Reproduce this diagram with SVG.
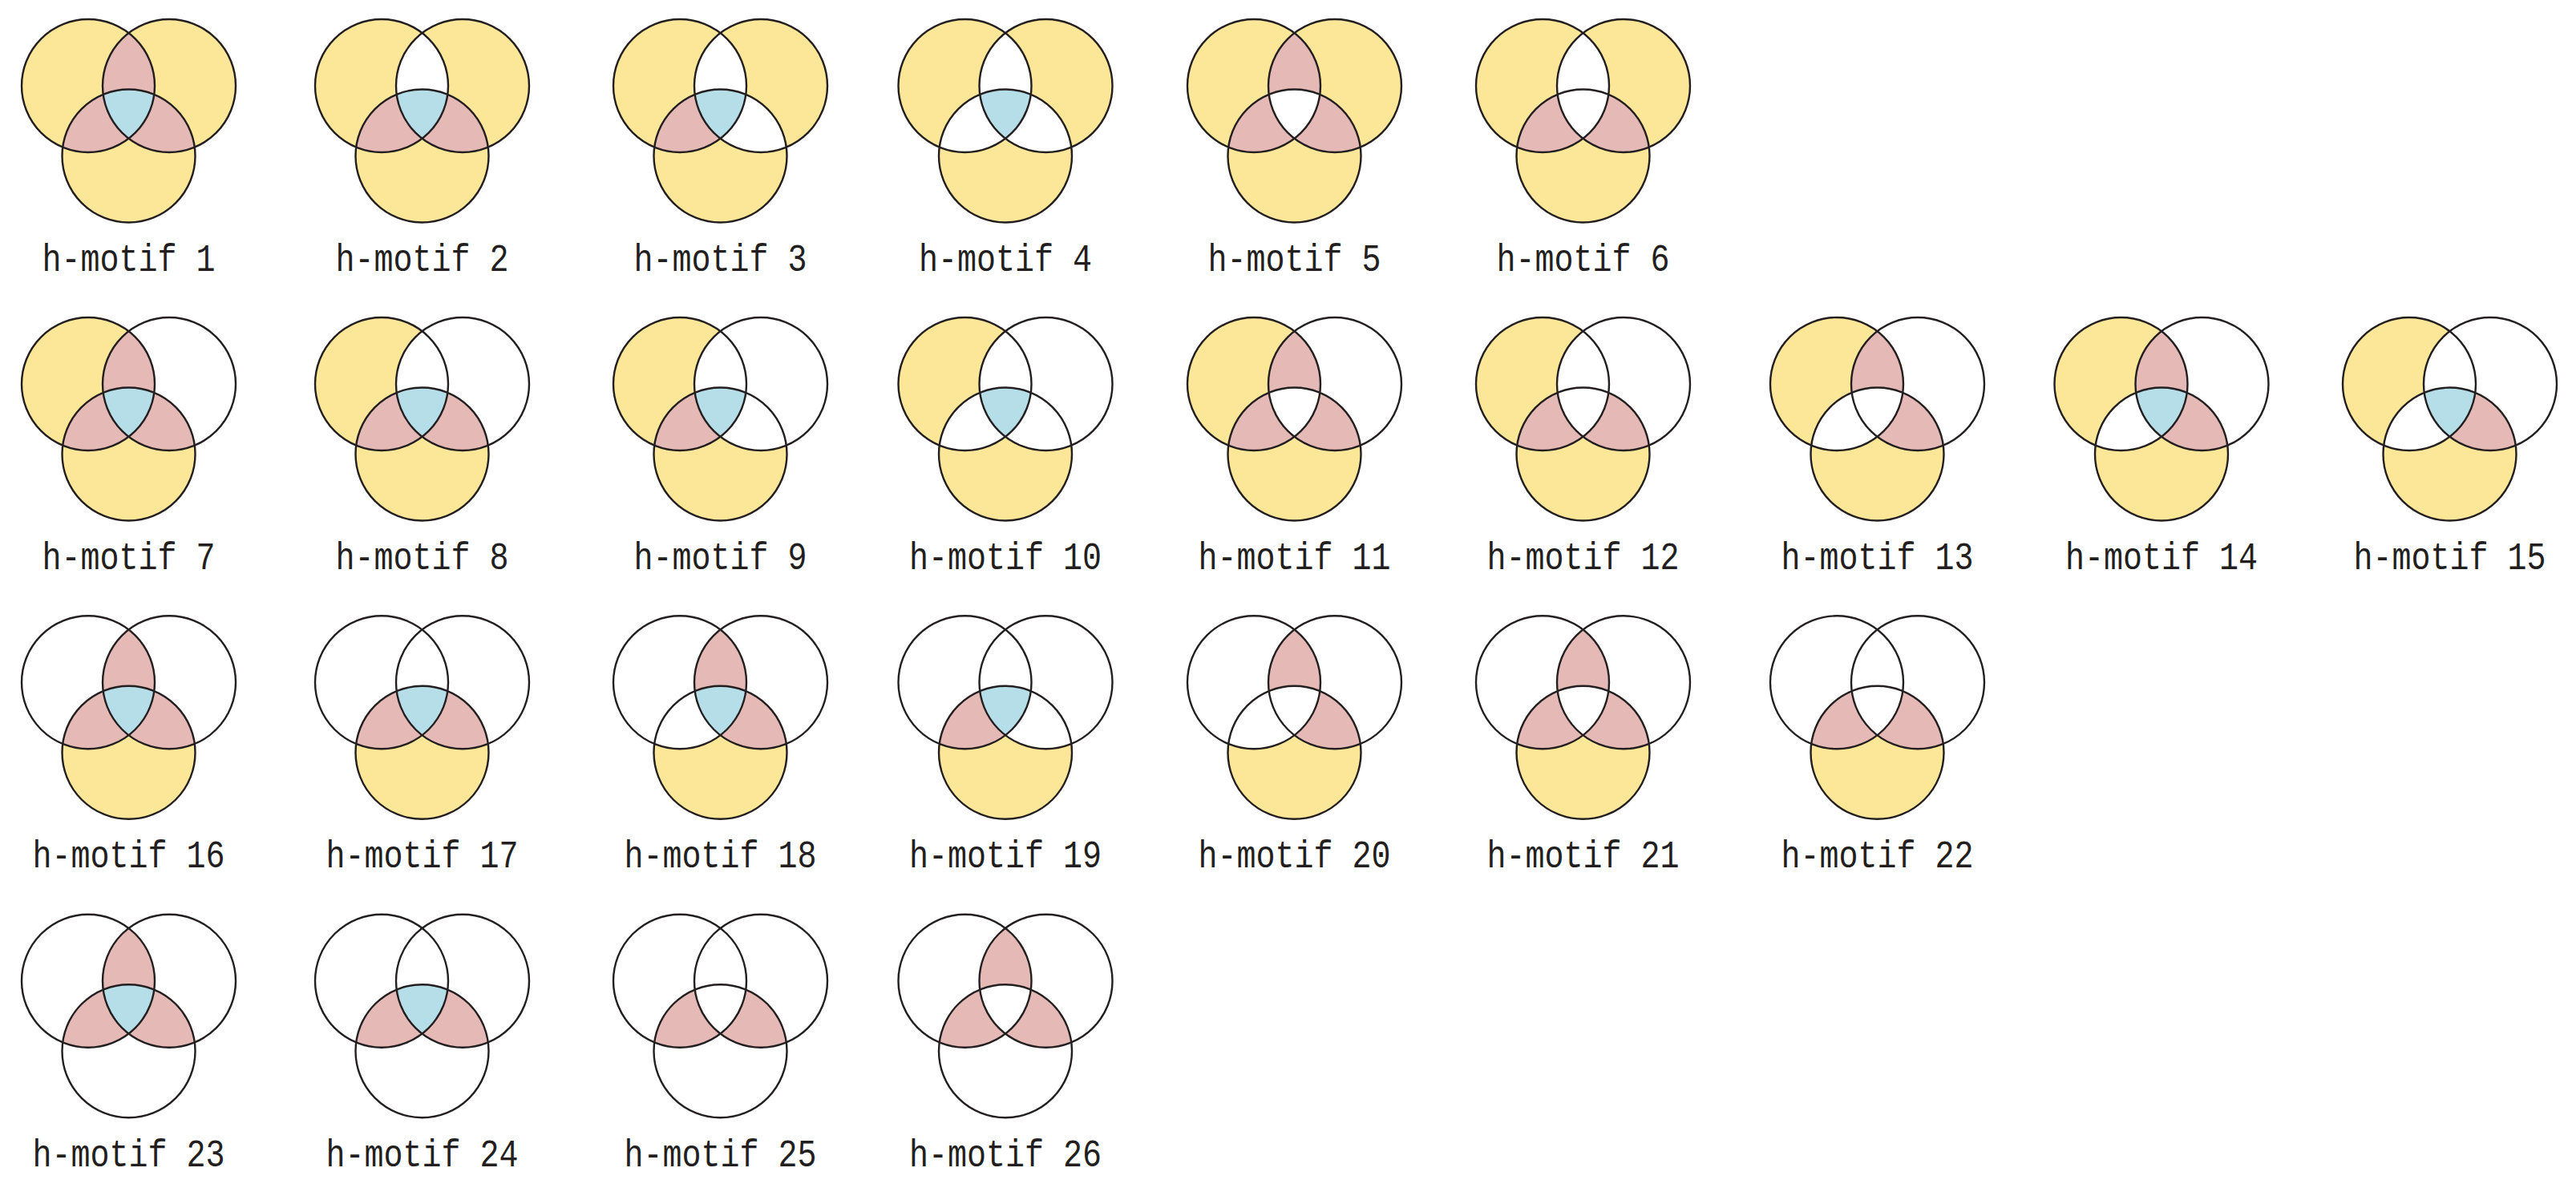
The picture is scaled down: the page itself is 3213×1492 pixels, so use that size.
<svg xmlns="http://www.w3.org/2000/svg" width="3213" height="1492" viewBox="0 0 3213 1492">
<style>
.y{fill:#fce697}.p{fill:#e5b9b6}.b{fill:#b6dee8}.w{fill:#ffffff}
.t{font-family:"Liberation Mono",monospace;font-size:40px;fill:#231f20;text-anchor:middle}
</style>
<defs>
<circle id="A" cx="0" cy="0" r="83"/>
<circle id="B" cx="101" cy="0" r="83"/>
<circle id="C" cx="50.5" cy="87.5" r="83"/>
<clipPath id="kA"><circle cx="0" cy="0" r="83"/></clipPath>
<clipPath id="kB"><circle cx="101" cy="0" r="83"/></clipPath>
<g id="O" fill="none" stroke="#231f20" stroke-width="2.4"><circle cx="0" cy="0" r="83"/><circle cx="101" cy="0" r="83"/><circle cx="50.5" cy="87.5" r="83"/></g>
</defs>
<rect width="3213" height="1492" fill="#ffffff"/>

<g id="m1" transform="translate(110,107)"><use href="#A" class="y"/><use href="#B" class="y"/><use href="#C" class="y"/><use href="#B" class="p" clip-path="url(#kA)"/><use href="#C" class="p" clip-path="url(#kA)"/><use href="#C" class="p" clip-path="url(#kB)"/><g clip-path="url(#kA)"><use href="#C" class="b" clip-path="url(#kB)"/></g><use href="#O"/><text class="t" transform="translate(50.5,231) scale(1,1.2)">h-motif 1</text></g>
<g id="m2" transform="translate(476,107)"><use href="#A" class="y"/><use href="#B" class="y"/><use href="#C" class="y"/><use href="#B" class="w" clip-path="url(#kA)"/><use href="#C" class="p" clip-path="url(#kA)"/><use href="#C" class="p" clip-path="url(#kB)"/><g clip-path="url(#kA)"><use href="#C" class="b" clip-path="url(#kB)"/></g><use href="#O"/><text class="t" transform="translate(50.5,231) scale(1,1.2)">h-motif 2</text></g>
<g id="m3" transform="translate(848,107)"><use href="#A" class="y"/><use href="#B" class="y"/><use href="#C" class="y"/><use href="#B" class="w" clip-path="url(#kA)"/><use href="#C" class="p" clip-path="url(#kA)"/><use href="#C" class="w" clip-path="url(#kB)"/><g clip-path="url(#kA)"><use href="#C" class="b" clip-path="url(#kB)"/></g><use href="#O"/><text class="t" transform="translate(50.5,231) scale(1,1.2)">h-motif 3</text></g>
<g id="m4" transform="translate(1203.5,107)"><use href="#A" class="y"/><use href="#B" class="y"/><use href="#C" class="y"/><use href="#B" class="w" clip-path="url(#kA)"/><use href="#C" class="w" clip-path="url(#kA)"/><use href="#C" class="w" clip-path="url(#kB)"/><g clip-path="url(#kA)"><use href="#C" class="b" clip-path="url(#kB)"/></g><use href="#O"/><text class="t" transform="translate(50.5,231) scale(1,1.2)">h-motif 4</text></g>
<g id="m5" transform="translate(1564,107)"><use href="#A" class="y"/><use href="#B" class="y"/><use href="#C" class="y"/><use href="#B" class="p" clip-path="url(#kA)"/><use href="#C" class="p" clip-path="url(#kA)"/><use href="#C" class="p" clip-path="url(#kB)"/><g clip-path="url(#kA)"><use href="#C" class="w" clip-path="url(#kB)"/></g><use href="#O"/><text class="t" transform="translate(50.5,231) scale(1,1.2)">h-motif 5</text></g>
<g id="m6" transform="translate(1924,107)"><use href="#A" class="y"/><use href="#B" class="y"/><use href="#C" class="y"/><use href="#B" class="w" clip-path="url(#kA)"/><use href="#C" class="p" clip-path="url(#kA)"/><use href="#C" class="p" clip-path="url(#kB)"/><g clip-path="url(#kA)"><use href="#C" class="w" clip-path="url(#kB)"/></g><use href="#O"/><text class="t" transform="translate(50.5,231) scale(1,1.2)">h-motif 6</text></g>

<g id="m7" transform="translate(110,479)"><use href="#A" class="y"/><use href="#B" class="w"/><use href="#C" class="y"/><use href="#B" class="p" clip-path="url(#kA)"/><use href="#C" class="p" clip-path="url(#kA)"/><use href="#C" class="p" clip-path="url(#kB)"/><g clip-path="url(#kA)"><use href="#C" class="b" clip-path="url(#kB)"/></g><use href="#O"/><text class="t" transform="translate(50.5,231) scale(1,1.2)">h-motif 7</text></g>
<g id="m8" transform="translate(476,479)"><use href="#A" class="y"/><use href="#B" class="w"/><use href="#C" class="y"/><use href="#B" class="w" clip-path="url(#kA)"/><use href="#C" class="p" clip-path="url(#kA)"/><use href="#C" class="p" clip-path="url(#kB)"/><g clip-path="url(#kA)"><use href="#C" class="b" clip-path="url(#kB)"/></g><use href="#O"/><text class="t" transform="translate(50.5,231) scale(1,1.2)">h-motif 8</text></g>
<g id="m9" transform="translate(848,479)"><use href="#A" class="y"/><use href="#B" class="w"/><use href="#C" class="y"/><use href="#B" class="w" clip-path="url(#kA)"/><use href="#C" class="p" clip-path="url(#kA)"/><use href="#C" class="w" clip-path="url(#kB)"/><g clip-path="url(#kA)"><use href="#C" class="b" clip-path="url(#kB)"/></g><use href="#O"/><text class="t" transform="translate(50.5,231) scale(1,1.2)">h-motif 9</text></g>
<g id="m10" transform="translate(1203.5,479)"><use href="#A" class="y"/><use href="#B" class="w"/><use href="#C" class="y"/><use href="#B" class="w" clip-path="url(#kA)"/><use href="#C" class="w" clip-path="url(#kA)"/><use href="#C" class="w" clip-path="url(#kB)"/><g clip-path="url(#kA)"><use href="#C" class="b" clip-path="url(#kB)"/></g><use href="#O"/><text class="t" transform="translate(50.5,231) scale(1,1.2)">h-motif 10</text></g>
<g id="m11" transform="translate(1564,479)"><use href="#A" class="y"/><use href="#B" class="w"/><use href="#C" class="y"/><use href="#B" class="p" clip-path="url(#kA)"/><use href="#C" class="p" clip-path="url(#kA)"/><use href="#C" class="p" clip-path="url(#kB)"/><g clip-path="url(#kA)"><use href="#C" class="w" clip-path="url(#kB)"/></g><use href="#O"/><text class="t" transform="translate(50.5,231) scale(1,1.2)">h-motif 11</text></g>
<g id="m12" transform="translate(1924,479)"><use href="#A" class="y"/><use href="#B" class="w"/><use href="#C" class="y"/><use href="#B" class="w" clip-path="url(#kA)"/><use href="#C" class="p" clip-path="url(#kA)"/><use href="#C" class="p" clip-path="url(#kB)"/><g clip-path="url(#kA)"><use href="#C" class="w" clip-path="url(#kB)"/></g><use href="#O"/><text class="t" transform="translate(50.5,231) scale(1,1.2)">h-motif 12</text></g>
<g id="m13" transform="translate(2291,479)"><use href="#A" class="y"/><use href="#B" class="w"/><use href="#C" class="y"/><use href="#B" class="p" clip-path="url(#kA)"/><use href="#C" class="w" clip-path="url(#kA)"/><use href="#C" class="p" clip-path="url(#kB)"/><g clip-path="url(#kA)"><use href="#C" class="w" clip-path="url(#kB)"/></g><use href="#O"/><text class="t" transform="translate(50.5,231) scale(1,1.2)">h-motif 13</text></g>
<g id="m14" transform="translate(2645.5,479)"><use href="#A" class="y"/><use href="#B" class="w"/><use href="#C" class="y"/><use href="#B" class="p" clip-path="url(#kA)"/><use href="#C" class="w" clip-path="url(#kA)"/><use href="#C" class="p" clip-path="url(#kB)"/><g clip-path="url(#kA)"><use href="#C" class="b" clip-path="url(#kB)"/></g><use href="#O"/><text class="t" transform="translate(50.5,231) scale(1,1.2)">h-motif 14</text></g>
<g id="m15" transform="translate(3005,479)"><use href="#A" class="y"/><use href="#B" class="w"/><use href="#C" class="y"/><use href="#B" class="w" clip-path="url(#kA)"/><use href="#C" class="w" clip-path="url(#kA)"/><use href="#C" class="p" clip-path="url(#kB)"/><g clip-path="url(#kA)"><use href="#C" class="b" clip-path="url(#kB)"/></g><use href="#O"/><text class="t" transform="translate(50.5,231) scale(1,1.2)">h-motif 15</text></g>

<g id="m16" transform="translate(110,851.3)"><use href="#A" class="w"/><use href="#B" class="w"/><use href="#C" class="y"/><use href="#B" class="p" clip-path="url(#kA)"/><use href="#C" class="p" clip-path="url(#kA)"/><use href="#C" class="p" clip-path="url(#kB)"/><g clip-path="url(#kA)"><use href="#C" class="b" clip-path="url(#kB)"/></g><use href="#O"/><text class="t" transform="translate(50.5,231) scale(1,1.2)">h-motif 16</text></g>
<g id="m17" transform="translate(476,851.3)"><use href="#A" class="w"/><use href="#B" class="w"/><use href="#C" class="y"/><use href="#B" class="w" clip-path="url(#kA)"/><use href="#C" class="p" clip-path="url(#kA)"/><use href="#C" class="p" clip-path="url(#kB)"/><g clip-path="url(#kA)"><use href="#C" class="b" clip-path="url(#kB)"/></g><use href="#O"/><text class="t" transform="translate(50.5,231) scale(1,1.2)">h-motif 17</text></g>
<g id="m18" transform="translate(848,851.3)"><use href="#A" class="w"/><use href="#B" class="w"/><use href="#C" class="y"/><use href="#B" class="p" clip-path="url(#kA)"/><use href="#C" class="w" clip-path="url(#kA)"/><use href="#C" class="p" clip-path="url(#kB)"/><g clip-path="url(#kA)"><use href="#C" class="b" clip-path="url(#kB)"/></g><use href="#O"/><text class="t" transform="translate(50.5,231) scale(1,1.2)">h-motif 18</text></g>
<g id="m19" transform="translate(1203.5,851.3)"><use href="#A" class="w"/><use href="#B" class="w"/><use href="#C" class="y"/><use href="#B" class="w" clip-path="url(#kA)"/><use href="#C" class="p" clip-path="url(#kA)"/><use href="#C" class="w" clip-path="url(#kB)"/><g clip-path="url(#kA)"><use href="#C" class="b" clip-path="url(#kB)"/></g><use href="#O"/><text class="t" transform="translate(50.5,231) scale(1,1.2)">h-motif 19</text></g>
<g id="m20" transform="translate(1564,851.3)"><use href="#A" class="w"/><use href="#B" class="w"/><use href="#C" class="y"/><use href="#B" class="p" clip-path="url(#kA)"/><use href="#C" class="w" clip-path="url(#kA)"/><use href="#C" class="p" clip-path="url(#kB)"/><g clip-path="url(#kA)"><use href="#C" class="w" clip-path="url(#kB)"/></g><use href="#O"/><text class="t" transform="translate(50.5,231) scale(1,1.2)">h-motif 20</text></g>
<g id="m21" transform="translate(1924,851.3)"><use href="#A" class="w"/><use href="#B" class="w"/><use href="#C" class="y"/><use href="#B" class="p" clip-path="url(#kA)"/><use href="#C" class="p" clip-path="url(#kA)"/><use href="#C" class="p" clip-path="url(#kB)"/><g clip-path="url(#kA)"><use href="#C" class="w" clip-path="url(#kB)"/></g><use href="#O"/><text class="t" transform="translate(50.5,231) scale(1,1.2)">h-motif 21</text></g>
<g id="m22" transform="translate(2291,851.3)"><use href="#A" class="w"/><use href="#B" class="w"/><use href="#C" class="y"/><use href="#B" class="w" clip-path="url(#kA)"/><use href="#C" class="p" clip-path="url(#kA)"/><use href="#C" class="p" clip-path="url(#kB)"/><g clip-path="url(#kA)"><use href="#C" class="w" clip-path="url(#kB)"/></g><use href="#O"/><text class="t" transform="translate(50.5,231) scale(1,1.2)">h-motif 22</text></g>

<g id="m23" transform="translate(110,1223.7)"><use href="#A" class="w"/><use href="#B" class="w"/><use href="#C" class="w"/><use href="#B" class="p" clip-path="url(#kA)"/><use href="#C" class="p" clip-path="url(#kA)"/><use href="#C" class="p" clip-path="url(#kB)"/><g clip-path="url(#kA)"><use href="#C" class="b" clip-path="url(#kB)"/></g><use href="#O"/><text class="t" transform="translate(50.5,231) scale(1,1.2)">h-motif 23</text></g>
<g id="m24" transform="translate(476,1223.7)"><use href="#A" class="w"/><use href="#B" class="w"/><use href="#C" class="w"/><use href="#B" class="w" clip-path="url(#kA)"/><use href="#C" class="p" clip-path="url(#kA)"/><use href="#C" class="p" clip-path="url(#kB)"/><g clip-path="url(#kA)"><use href="#C" class="b" clip-path="url(#kB)"/></g><use href="#O"/><text class="t" transform="translate(50.5,231) scale(1,1.2)">h-motif 24</text></g>
<g id="m25" transform="translate(848,1223.7)"><use href="#A" class="w"/><use href="#B" class="w"/><use href="#C" class="w"/><use href="#B" class="w" clip-path="url(#kA)"/><use href="#C" class="p" clip-path="url(#kA)"/><use href="#C" class="p" clip-path="url(#kB)"/><g clip-path="url(#kA)"><use href="#C" class="w" clip-path="url(#kB)"/></g><use href="#O"/><text class="t" transform="translate(50.5,231) scale(1,1.2)">h-motif 25</text></g>
<g id="m26" transform="translate(1203.5,1223.7)"><use href="#A" class="w"/><use href="#B" class="w"/><use href="#C" class="w"/><use href="#B" class="p" clip-path="url(#kA)"/><use href="#C" class="p" clip-path="url(#kA)"/><use href="#C" class="p" clip-path="url(#kB)"/><g clip-path="url(#kA)"><use href="#C" class="w" clip-path="url(#kB)"/></g><use href="#O"/><text class="t" transform="translate(50.5,231) scale(1,1.2)">h-motif 26</text></g>
</svg>
